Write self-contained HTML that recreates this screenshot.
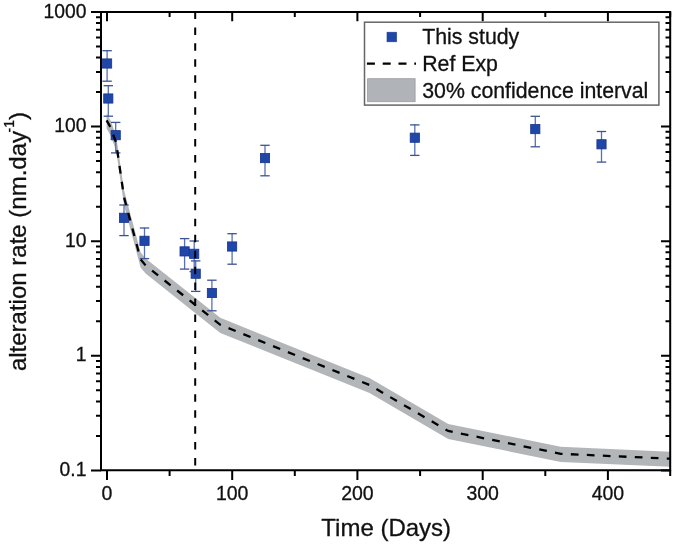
<!DOCTYPE html>
<html><head><meta charset="utf-8"><title>alteration rate</title>
<style>html,body{margin:0;padding:0;background:#fff;}svg{display:block;}text{fill:#111;stroke:#111;stroke-width:0.3px;}</style>
</head><body>
<svg width="675" height="545" viewBox="0 0 675 545"><polygon points="106.6,113.4 110.6,120.4 113.5,128.5 116.2,136.0 124.0,190.1 140.6,252.3 145.6,258.4 220.3,317.8 369.5,378.0 448.2,424.0 560.8,446.8 670.2,451.7 670.2,466.8 560.8,461.9 448.2,439.1 369.5,393.1 220.3,332.9 145.6,273.5 140.6,267.4 124.0,205.2 116.2,151.1 113.5,143.6 110.6,135.5 106.6,128.5" fill="#b3b6b8"/>
<line x1="107.1" y1="50.4" x2="107.1" y2="81.2" stroke="#5570b5" stroke-width="1.3"/>
<line x1="102.4" y1="50.7" x2="111.8" y2="50.7" stroke="#3d5292" stroke-width="1.3"/>
<line x1="102.4" y1="81.2" x2="111.8" y2="81.2" stroke="#3d5292" stroke-width="1.3"/>
<line x1="108.3" y1="85.4" x2="108.3" y2="116.2" stroke="#5570b5" stroke-width="1.3"/>
<line x1="103.6" y1="85.7" x2="113.0" y2="85.7" stroke="#3d5292" stroke-width="1.3"/>
<line x1="103.6" y1="116.2" x2="113.0" y2="116.2" stroke="#3d5292" stroke-width="1.3"/>
<line x1="115.7" y1="122.1" x2="115.7" y2="152.9" stroke="#5570b5" stroke-width="1.3"/>
<line x1="111.0" y1="122.4" x2="120.4" y2="122.4" stroke="#3d5292" stroke-width="1.3"/>
<line x1="111.0" y1="152.9" x2="120.4" y2="152.9" stroke="#3d5292" stroke-width="1.3"/>
<line x1="124.0" y1="204.7" x2="124.0" y2="235.6" stroke="#5570b5" stroke-width="1.3"/>
<line x1="119.3" y1="205.0" x2="128.7" y2="205.0" stroke="#3d5292" stroke-width="1.3"/>
<line x1="119.3" y1="235.6" x2="128.7" y2="235.6" stroke="#3d5292" stroke-width="1.3"/>
<line x1="144.5" y1="227.7" x2="144.5" y2="258.6" stroke="#5570b5" stroke-width="1.3"/>
<line x1="139.8" y1="228.0" x2="149.2" y2="228.0" stroke="#3d5292" stroke-width="1.3"/>
<line x1="139.8" y1="258.6" x2="149.2" y2="258.6" stroke="#3d5292" stroke-width="1.3"/>
<line x1="184.6" y1="238.3" x2="184.6" y2="269.1" stroke="#5570b5" stroke-width="1.3"/>
<line x1="179.9" y1="238.6" x2="189.3" y2="238.6" stroke="#3d5292" stroke-width="1.3"/>
<line x1="179.9" y1="269.1" x2="189.3" y2="269.1" stroke="#3d5292" stroke-width="1.3"/>
<line x1="194.2" y1="240.7" x2="194.2" y2="271.6" stroke="#5570b5" stroke-width="1.3"/>
<line x1="189.5" y1="241.0" x2="198.9" y2="241.0" stroke="#3d5292" stroke-width="1.3"/>
<line x1="189.5" y1="271.6" x2="198.9" y2="271.6" stroke="#3d5292" stroke-width="1.3"/>
<line x1="195.7" y1="260.6" x2="195.7" y2="291.4" stroke="#5570b5" stroke-width="1.3"/>
<line x1="191.0" y1="260.9" x2="200.4" y2="260.9" stroke="#3d5292" stroke-width="1.3"/>
<line x1="191.0" y1="291.4" x2="200.4" y2="291.4" stroke="#3d5292" stroke-width="1.3"/>
<line x1="211.9" y1="279.9" x2="211.9" y2="310.8" stroke="#5570b5" stroke-width="1.3"/>
<line x1="207.2" y1="280.2" x2="216.6" y2="280.2" stroke="#3d5292" stroke-width="1.3"/>
<line x1="207.2" y1="310.8" x2="216.6" y2="310.8" stroke="#3d5292" stroke-width="1.3"/>
<line x1="232.1" y1="233.4" x2="232.1" y2="264.2" stroke="#5570b5" stroke-width="1.3"/>
<line x1="227.4" y1="233.7" x2="236.8" y2="233.7" stroke="#3d5292" stroke-width="1.3"/>
<line x1="227.4" y1="264.2" x2="236.8" y2="264.2" stroke="#3d5292" stroke-width="1.3"/>
<line x1="265.0" y1="145.0" x2="265.0" y2="175.8" stroke="#5570b5" stroke-width="1.3"/>
<line x1="260.3" y1="145.3" x2="269.7" y2="145.3" stroke="#3d5292" stroke-width="1.3"/>
<line x1="260.3" y1="175.8" x2="269.7" y2="175.8" stroke="#3d5292" stroke-width="1.3"/>
<line x1="414.8" y1="124.6" x2="414.8" y2="155.4" stroke="#5570b5" stroke-width="1.3"/>
<line x1="410.1" y1="124.9" x2="419.5" y2="124.9" stroke="#3d5292" stroke-width="1.3"/>
<line x1="410.1" y1="155.4" x2="419.5" y2="155.4" stroke="#3d5292" stroke-width="1.3"/>
<line x1="535.3" y1="116.0" x2="535.3" y2="146.8" stroke="#5570b5" stroke-width="1.3"/>
<line x1="530.6" y1="116.3" x2="540.0" y2="116.3" stroke="#3d5292" stroke-width="1.3"/>
<line x1="530.6" y1="146.8" x2="540.0" y2="146.8" stroke="#3d5292" stroke-width="1.3"/>
<line x1="601.5" y1="131.2" x2="601.5" y2="162.1" stroke="#5570b5" stroke-width="1.3"/>
<line x1="596.8" y1="131.5" x2="606.2" y2="131.5" stroke="#3d5292" stroke-width="1.3"/>
<line x1="596.8" y1="162.1" x2="606.2" y2="162.1" stroke="#3d5292" stroke-width="1.3"/>
<rect x="102.5" y="58.9" width="9.2" height="9.2" fill="#1f47aa" stroke="#19338a" stroke-width="0.8"/>
<rect x="103.7" y="93.9" width="9.2" height="9.2" fill="#1f47aa" stroke="#19338a" stroke-width="0.8"/>
<rect x="111.1" y="130.6" width="9.2" height="9.2" fill="#1f47aa" stroke="#19338a" stroke-width="0.8"/>
<rect x="119.4" y="213.2" width="9.2" height="9.2" fill="#1f47aa" stroke="#19338a" stroke-width="0.8"/>
<rect x="139.9" y="236.2" width="9.2" height="9.2" fill="#1f47aa" stroke="#19338a" stroke-width="0.8"/>
<rect x="180.0" y="246.8" width="9.2" height="9.2" fill="#1f47aa" stroke="#19338a" stroke-width="0.8"/>
<rect x="189.6" y="249.2" width="9.2" height="9.2" fill="#1f47aa" stroke="#19338a" stroke-width="0.8"/>
<rect x="191.1" y="269.1" width="9.2" height="9.2" fill="#1f47aa" stroke="#19338a" stroke-width="0.8"/>
<rect x="207.3" y="288.4" width="9.2" height="9.2" fill="#1f47aa" stroke="#19338a" stroke-width="0.8"/>
<rect x="227.5" y="241.9" width="9.2" height="9.2" fill="#1f47aa" stroke="#19338a" stroke-width="0.8"/>
<rect x="260.4" y="153.5" width="9.2" height="9.2" fill="#1f47aa" stroke="#19338a" stroke-width="0.8"/>
<rect x="410.2" y="133.1" width="9.2" height="9.2" fill="#1f47aa" stroke="#19338a" stroke-width="0.8"/>
<rect x="530.7" y="124.5" width="9.2" height="9.2" fill="#1f47aa" stroke="#19338a" stroke-width="0.8"/>
<rect x="596.9" y="139.7" width="9.2" height="9.2" fill="#1f47aa" stroke="#19338a" stroke-width="0.8"/>
<polyline points="106.6,120.4 110.6,127.4 113.5,135.5 116.2,143.0 124.0,197.1 140.6,259.3 145.6,265.4 220.3,324.8 369.5,385.0 448.2,431.0 560.8,453.8 670.2,458.7" fill="none" stroke="#000" stroke-width="2.3" stroke-dasharray="7.7 8.305" stroke-dashoffset="0.21"/>
<line x1="195.2" y1="11.45" x2="195.2" y2="470" stroke="#000" stroke-width="2" stroke-dasharray="7.5 8.45"/>
<path d="M101.0,12.0 H670.2 V470.3 H101.0 Z" fill="none" stroke="#000" stroke-width="2"/>
<path d="M91,470.4 H101.0 M670.2,470.4 H661 M96,435.9 H101.0 M670.2,435.9 H665.5 M96,415.7 H101.0 M670.2,415.7 H665.5 M96,401.4 H101.0 M670.2,401.4 H665.5 M96,390.3 H101.0 M670.2,390.3 H665.5 M96,381.2 H101.0 M670.2,381.2 H665.5 M96,373.6 H101.0 M670.2,373.6 H665.5 M96,366.9 H101.0 M670.2,366.9 H665.5 M96,361.0 H101.0 M670.2,361.0 H665.5 M91,355.8 H101.0 M670.2,355.8 H661 M96,321.3 H101.0 M670.2,321.3 H665.5 M96,301.1 H101.0 M670.2,301.1 H665.5 M96,286.8 H101.0 M670.2,286.8 H665.5 M96,275.7 H101.0 M670.2,275.7 H665.5 M96,266.6 H101.0 M670.2,266.6 H665.5 M96,259.0 H101.0 M670.2,259.0 H665.5 M96,252.3 H101.0 M670.2,252.3 H665.5 M96,246.4 H101.0 M670.2,246.4 H665.5 M91,241.2 H101.0 M670.2,241.2 H661 M96,206.7 H101.0 M670.2,206.7 H665.5 M96,186.5 H101.0 M670.2,186.5 H665.5 M96,172.2 H101.0 M670.2,172.2 H665.5 M96,161.1 H101.0 M670.2,161.1 H665.5 M96,152.0 H101.0 M670.2,152.0 H665.5 M96,144.4 H101.0 M670.2,144.4 H665.5 M96,137.7 H101.0 M670.2,137.7 H665.5 M96,131.8 H101.0 M670.2,131.8 H665.5 M91,126.6 H101.0 M670.2,126.6 H661 M96,92.1 H101.0 M670.2,92.1 H665.5 M96,71.9 H101.0 M670.2,71.9 H665.5 M96,57.6 H101.0 M670.2,57.6 H665.5 M96,46.5 H101.0 M670.2,46.5 H665.5 M96,37.4 H101.0 M670.2,37.4 H665.5 M96,29.8 H101.0 M670.2,29.8 H665.5 M96,23.1 H101.0 M670.2,23.1 H665.5 M96,17.2 H101.0 M670.2,17.2 H665.5 M91,12.0 H101.0 M107.0,470.3 V480 M107.0,12.0 V21.3 M169.6,470.3 V476 M169.6,12.0 V17 M232.2,470.3 V480 M232.2,12.0 V21.3 M294.8,470.3 V476 M294.8,12.0 V17 M357.4,470.3 V480 M357.4,12.0 V21.3 M420.1,470.3 V476 M420.1,12.0 V17 M482.7,470.3 V480 M482.7,12.0 V21.3 M545.3,470.3 V476 M545.3,12.0 V17 M607.9,470.3 V480 M607.9,12.0 V21.3 M670.2,470.3 V476 M670.2,12.0 V17" stroke="#000" stroke-width="2" fill="none"/>
<text x="86.4" y="17.6" font-size="19.3" text-anchor="end" font-family='"Liberation Sans", Arial, Helvetica, sans-serif'>1000</text>
<text x="86.4" y="132.2" font-size="19.3" text-anchor="end" font-family='"Liberation Sans", Arial, Helvetica, sans-serif'>100</text>
<text x="86.4" y="246.8" font-size="19.3" text-anchor="end" font-family='"Liberation Sans", Arial, Helvetica, sans-serif'>10</text>
<text x="86.4" y="361.4" font-size="19.3" text-anchor="end" font-family='"Liberation Sans", Arial, Helvetica, sans-serif'>1</text>
<text x="86.4" y="476.0" font-size="19.3" text-anchor="end" font-family='"Liberation Sans", Arial, Helvetica, sans-serif'>0.1</text>
<text x="107.0" y="499.6" font-size="19.5" text-anchor="middle" font-family='"Liberation Sans", Arial, Helvetica, sans-serif'>0</text>
<text x="232.2" y="499.6" font-size="19.5" text-anchor="middle" font-family='"Liberation Sans", Arial, Helvetica, sans-serif'>100</text>
<text x="357.4" y="499.6" font-size="19.5" text-anchor="middle" font-family='"Liberation Sans", Arial, Helvetica, sans-serif'>200</text>
<text x="482.7" y="499.6" font-size="19.5" text-anchor="middle" font-family='"Liberation Sans", Arial, Helvetica, sans-serif'>300</text>
<text x="607.9" y="499.6" font-size="19.5" text-anchor="middle" font-family='"Liberation Sans", Arial, Helvetica, sans-serif'>400</text>
<text x="386.2" y="536.2" font-size="24" text-anchor="middle" font-family='"Liberation Sans", Arial, Helvetica, sans-serif'>Time (Days)</text>
<text transform="translate(26.2,371.1) rotate(-90)" font-size="24" font-family='"Liberation Sans", Arial, Helvetica, sans-serif'>alteration rate (nm.day<tspan font-size="14" dx="-1.4" dy="-12.7">-1</tspan><tspan dy="12.7">)</tspan></text>
<rect x="364.5" y="22.2" width="294.4" height="82.9" fill="#fff" stroke="#666" stroke-width="1.5"/>
<rect x="387" y="32.2" width="9.6" height="9.6" fill="#1f47aa" stroke="#1a3d94" stroke-width="0.6"/>
<line x1="366.9" y1="63.6" x2="416" y2="63.6" stroke="#000" stroke-width="2.2" stroke-dasharray="8 7.8"/>
<rect x="367.6" y="78.7" width="47.5" height="23" fill="#b0b3b7" stroke="#999ca0" stroke-width="0.8"/>
<text x="422.2" y="44.3" font-size="21.3" font-family='"Liberation Sans", Arial, Helvetica, sans-serif'>This study</text>
<text x="422.2" y="70.9" font-size="21.3" font-family='"Liberation Sans", Arial, Helvetica, sans-serif'>Ref Exp</text>
<text x="422.2" y="97.5" font-size="21.3" font-family='"Liberation Sans", Arial, Helvetica, sans-serif'>30% confidence interval</text></svg>
</body></html>
